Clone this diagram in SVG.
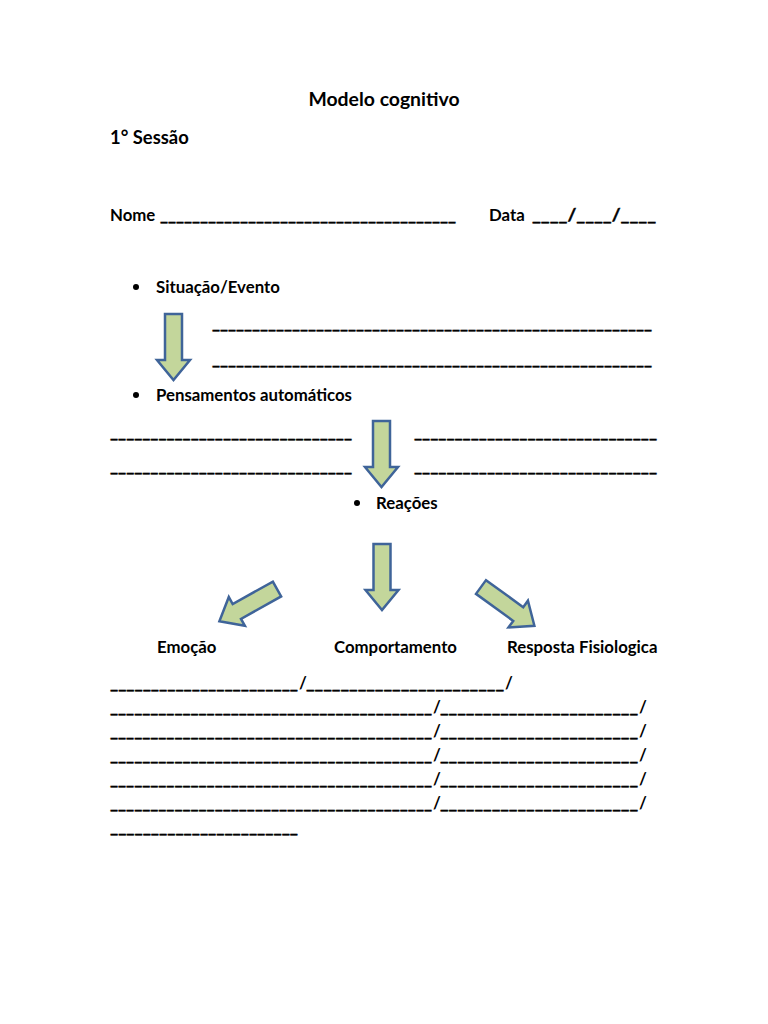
<svg xmlns="http://www.w3.org/2000/svg" width="768" height="1024" viewBox="0 0 768 1024">
<style>
text{font-family:Lato,"Liberation Sans",sans-serif;font-weight:bold;fill:#000;font-size:16.8px}
.t{font-size:19.4px}
.h{font-size:18.4px}
.u{stroke:#000;stroke-width:0.45}
.arrow{fill:#c3d69b;stroke:#3f6499;stroke-width:2.5;stroke-linejoin:miter}
</style>
<defs>
<polygon id="arr" points="-8.5,0 8.5,0 8.5,46 16.5,46 0,66 -16.5,46 -8.5,46"/>
</defs>
<rect width="768" height="1024" fill="#fff"/>
<g id="title"><text class="t" x="384" y="106" text-anchor="middle">Modelo cognitivo</text></g>
<g id="sessao"><text class="h" x="110" y="144">1° Sessão</text></g>
<g id="nome">
<text x="110" y="221">Nome</text>
<text class="u" x="160" y="221" textLength="296" lengthAdjust="spacingAndGlyphs">_____________________________________</text>
<text x="489" y="221">Data</text>
<text class="u" x="532" y="221" textLength="124" lengthAdjust="spacingAndGlyphs">____/____/____</text>
</g>
<g id="situacao">
<circle cx="136" cy="287" r="3"/>
<text x="156" y="293">Situação/Evento</text>
<text class="u" x="212" y="329" textLength="440" lengthAdjust="spacingAndGlyphs">_______________________________________________________</text>
<text class="u" x="212" y="365" textLength="440" lengthAdjust="spacingAndGlyphs">_______________________________________________________</text>
</g>
<g id="pensamentos">
<circle cx="136" cy="395" r="3"/>
<text x="156" y="401">Pensamentos automáticos</text>
<text class="u" x="110" y="438" textLength="242" lengthAdjust="spacingAndGlyphs">______________________________</text>
<text class="u" x="110" y="472" textLength="242" lengthAdjust="spacingAndGlyphs">______________________________</text>
<text class="u" x="414" y="438" textLength="243" lengthAdjust="spacingAndGlyphs">______________________________</text>
<text class="u" x="414" y="472" textLength="243" lengthAdjust="spacingAndGlyphs">______________________________</text>
</g>
<g id="reacoes">
<circle cx="357" cy="503" r="3"/>
<text x="376" y="509">Reações</text>
</g>
<g id="emocao"><text x="157" y="653">Emoção</text></g>
<g id="comportamento"><text x="334" y="653">Comportamento</text></g>
<g id="resposta"><text x="507" y="653">Resposta Fisiologica</text></g>
<g id="connectors">
<use href="#arr" class="arrow" transform="translate(173.5,314)"/>
<use href="#arr" class="arrow" transform="translate(381.5,421)"/>
<use href="#arr" class="arrow" transform="translate(382,544)"/>
<use href="#arr" class="arrow" transform="translate(277,589) rotate(60.8)"/>
<use href="#arr" class="arrow" transform="translate(481,587) rotate(-54)"/>
</g>
<g id="lines">
<text class="u" x="110" y="689" textLength="188" lengthAdjust="spacingAndGlyphs">_______________________</text>
<text x="299" y="689">/</text>
<text class="u" x="306" y="689" textLength="198" lengthAdjust="spacingAndGlyphs">_______________________</text>
<text x="505" y="689">/</text>
<text class="u" x="110" y="713" textLength="322" lengthAdjust="spacingAndGlyphs">________________________________________</text>
<text x="433" y="713">/</text>
<text class="u" x="440" y="713" textLength="198" lengthAdjust="spacingAndGlyphs">_______________________</text>
<text x="639" y="713">/</text>
<text class="u" x="110" y="737" textLength="322" lengthAdjust="spacingAndGlyphs">________________________________________</text>
<text x="433" y="737">/</text>
<text class="u" x="440" y="737" textLength="198" lengthAdjust="spacingAndGlyphs">_______________________</text>
<text x="639" y="737">/</text>
<text class="u" x="110" y="761" textLength="322" lengthAdjust="spacingAndGlyphs">________________________________________</text>
<text x="433" y="761">/</text>
<text class="u" x="440" y="761" textLength="198" lengthAdjust="spacingAndGlyphs">_______________________</text>
<text x="639" y="761">/</text>
<text class="u" x="110" y="785" textLength="322" lengthAdjust="spacingAndGlyphs">________________________________________</text>
<text x="433" y="785">/</text>
<text class="u" x="440" y="785" textLength="198" lengthAdjust="spacingAndGlyphs">_______________________</text>
<text x="639" y="785">/</text>
<text class="u" x="110" y="809" textLength="322" lengthAdjust="spacingAndGlyphs">________________________________________</text>
<text x="433" y="809">/</text>
<text class="u" x="440" y="809" textLength="198" lengthAdjust="spacingAndGlyphs">_______________________</text>
<text x="639" y="809">/</text>
<text class="u" x="110" y="833" textLength="188" lengthAdjust="spacingAndGlyphs">_______________________</text>
</g>
</svg>
